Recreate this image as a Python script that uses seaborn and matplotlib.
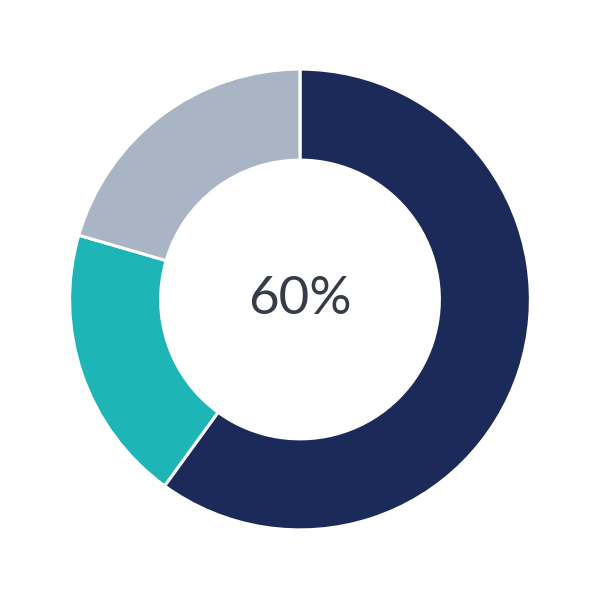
import matplotlib
matplotlib.use("Agg")
import matplotlib.pyplot as plt
import seaborn as sns

# slice data (clockwise from 12 o'clock)
labels = ["Primary", "Secondary", "Other"]
shares = [60, 19.5, 20.5]
colors = ["#1c2a5a", "#1db5b6", "#a9b4c4"]
center_text = "60%"

sns.set_theme(style="white")
plt.rcParams["font.family"] = ["Lato", "DejaVu Sans"]

palette = sns.color_palette(colors)

fig = plt.figure(figsize=(6, 5.99), dpi=100)
ax = fig.add_axes([0, 0, 1, 1])

ax.pie(shares, colors=palette, startangle=90, counterclock=False,
       radius=1.0,
       wedgeprops=dict(width=0.395, edgecolor="white", linewidth=2.2))

ax.text(0, 0, center_text, ha="center", va="center",
        fontsize=38, color="#363c47", fontweight="normal")

ax.set_xlim(-1.3, 1.3)
ax.set_ylim(-1.3, 1.3)
ax.set_aspect("equal")
ax.axis("off")

fig.savefig("out.png", dpi=100, facecolor="white")
